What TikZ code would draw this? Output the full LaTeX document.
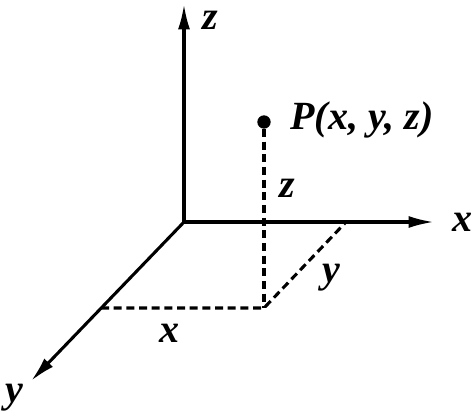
\documentclass[tikz,border=0pt]{standalone}
\usepackage{fontspec}
\setmainfont{Liberation Serif}
\usetikzlibrary{arrows.meta}
\begin{document}
\begin{tikzpicture}[x=0.75pt,y=-0.75pt,
  axis/.style={line width=2.3pt,-{Latex[length=19pt,width=9pt]}},
  guide/.style={line width=2.3pt,dash pattern=on 6pt off 3.5pt},
  lbl/.style={inner sep=0pt,font=\fontsize{30}{35}\selectfont\bfseries\itshape},
  dotp/.style={circle,fill=black,inner sep=0pt,minimum size=10pt}]
\useasboundingbox (0,0) rectangle (474,415);
\coordinate (O) at (184,222);
\coordinate (Zend) at (184,4);
\coordinate (Xend) at (434,222);
\coordinate (Yend) at (31,381);
\coordinate (A) at (101,308);
\coordinate (B) at (264,308);
\coordinate (C) at (346,222);
\node[dotp] (P) at (264,122) {};
\draw[axis] (O) -- (Zend);
\draw[axis] (O) -- (Xend);
\draw[axis] (O) -- (Yend);
\draw[guide] (P.south) -- (B);
\draw[guide] (A) -- (B) -- (C);
\node[lbl] (lz) at (210,20) {z};
\node[lbl] (lx) at (462,222) {x};
\node[lbl] (ly) at (14,398) {y};
\node[lbl] (lp) at (362,120) {P(x, y, z)};
\node[lbl] (lz2) at (287,188) {z};
\node[lbl] (ly2) at (331,278) {y};
\node[lbl] (lx2) at (169,333) {x};
\end{tikzpicture}
\end{document}
